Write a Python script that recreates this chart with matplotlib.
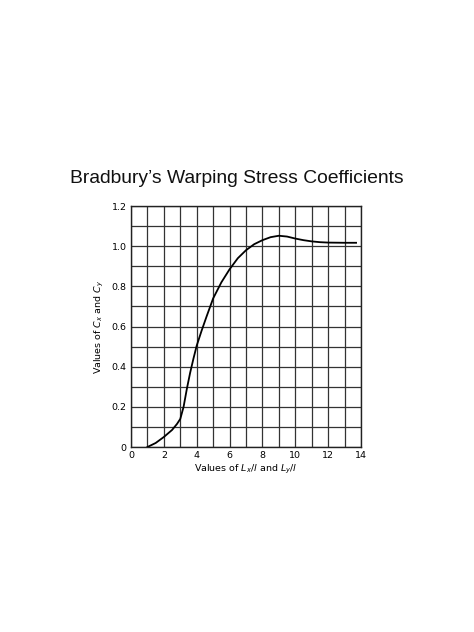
import matplotlib
matplotlib.use("Agg")
import matplotlib.pyplot as plt
import numpy as np

# curve
ratio = [1.0, 1.5, 2.0, 2.5, 2.8, 3.0, 3.2, 3.4, 3.6, 3.8, 4.0, 4.3, 4.6, 5.0, 5.5,
         6.0, 6.5, 7.0, 7.5, 8.0, 8.5, 9.0, 9.5, 10.0, 10.5, 11.0, 11.5, 12.0, 13.0, 13.7]
coef = [0.0, 0.02, 0.05, 0.085, 0.115, 0.14, 0.2, 0.29, 0.37, 0.44, 0.505, 0.58, 0.65, 0.74, 0.82,
        0.885, 0.94, 0.98, 1.01, 1.03, 1.045, 1.052, 1.048, 1.038, 1.03, 1.024, 1.02, 1.018, 1.017, 1.017]
xticks = [0, 2, 4, 6, 8, 10, 12, 14]
yticks = [0, 0.2, 0.4, 0.6, 0.8, 1.0, 1.2]

fig = plt.figure(figsize=(4.74, 6.32), dpi=100)
fig.text(0.5, 0.718, "Bradbury\u2019s Warping Stress Coefficients", ha="center", va="center",
         fontsize=13.9, family="Liberation Sans", color="#111")

ax = fig.add_axes([0.2764, 0.2927, 0.4852, 0.3813])
ax.set_xlim(0, 14); ax.set_ylim(0, 1.2)
ax.set_xticks(np.arange(0, 14.01, 1), minor=True)
ax.set_yticks(np.arange(0, 1.201, 0.1), minor=True)
ax.set_xticks(xticks); ax.set_yticks(yticks)
ax.set_xticklabels([str(t) for t in xticks])
ax.set_yticklabels(["0", "0.2", "0.4", "0.6", "0.8", "1.0", "1.2"])
ax.grid(which="both", color="#333", lw=0.9)
ax.tick_params(which="both", length=0, labelsize=6.8, pad=3)
for s in ax.spines.values():
    s.set_linewidth(1.0); s.set_color("#222")

ax.plot(ratio, coef, color="black", lw=1.3, zorder=3)

ax.set_xlabel("Values of $L_x/l$ and $L_y/l$", fontsize=6.8, labelpad=2)
ax.set_ylabel("Values of $C_x$ and $C_y$", fontsize=6.8, labelpad=4)

fig.savefig("out.png", dpi=100)
